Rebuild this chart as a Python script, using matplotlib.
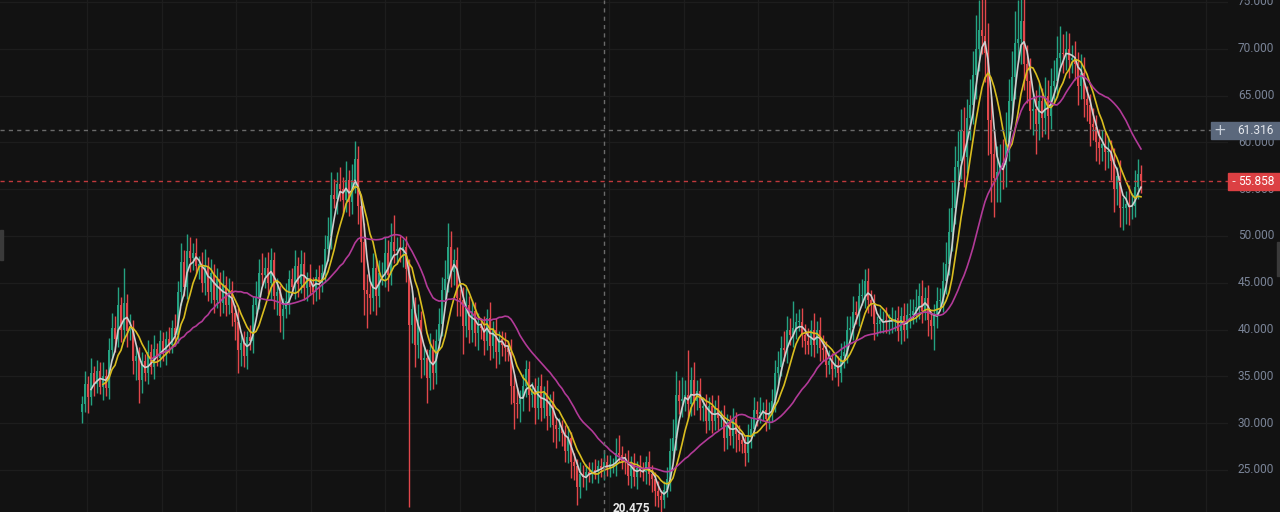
import matplotlib
matplotlib.use('Agg')
import matplotlib.pyplot as plt
from matplotlib.transforms import blended_transform_factory
from matplotlib.patches import Rectangle
import numpy as np
import pandas as pd

# closes, one candle every 3 px (left to right)
closes = [
    32.0, 34.2, 32.8, 35.4, 34.2, 35.6, 33.9, 35.0, 33.8, 37.8,
    40.2, 39.0, 42.6, 40.0, 42.8, 39.8, 40.2, 36.6, 37.2, 34.6,
    36.6, 35.4, 37.6, 36.0, 37.9, 37.0, 38.8, 37.4, 39.0, 38.4,
    40.2, 39.4, 44.0, 47.2, 44.6, 48.4, 47.6, 48.2, 46.8, 47.0,
    45.0, 46.8, 44.0, 46.0, 43.2, 45.4, 42.8, 44.8, 42.6, 44.2,
    41.8, 40.8, 37.8, 38.6, 37.2, 39.2, 38.8, 42.6, 43.4, 46.0,
    45.8, 46.6, 45.0, 47.4, 43.6, 44.0, 41.4, 42.2, 43.0, 45.4,
    44.6, 46.8, 44.9, 47.0, 44.4, 45.4, 44.6, 44.0, 45.6, 45.2,
    46.0, 48.6, 50.0, 54.4, 54.0, 55.6, 55.0, 53.8, 56.0, 53.6,
    56.0, 58.2, 53.2, 49.4, 44.2, 43.8, 43.4, 46.6, 43.6, 46.0,
    46.0, 48.2, 45.8, 49.4, 48.4, 48.6, 48.4, 48.8, 46.5, 40.5,
    42.2, 38.4, 41.0, 36.8, 37.0, 34.8, 37.8, 35.4, 38.8, 40.6,
    44.2, 45.4, 48.8, 46.2, 47.4, 43.4, 43.2, 40.4, 42.6, 40.0,
    42.0, 39.6, 40.4, 40.2, 38.8, 41.2, 38.2, 40.0, 37.6, 39.0,
    38.4, 38.0, 37.6, 34.0, 32.2, 32.0, 32.6, 34.0, 35.8, 33.0,
    33.6, 31.6, 34.0, 31.6, 33.2, 30.8, 32.4, 29.8, 29.4, 29.4,
    29.0, 27.0, 28.4, 25.8, 25.4, 23.2, 24.6, 24.2, 24.8, 24.6,
    25.0, 24.8, 25.4, 25.2, 25.8, 25.2, 25.6, 25.6, 26.8, 26.6,
    26.0, 25.8, 24.4, 25.6, 24.2, 25.2, 25.0, 24.8, 25.8, 24.6,
    24.0, 22.8, 22.2, 21.8, 22.9, 24.0, 27.0, 28.4, 33.0, 32.4,
    32.6, 33.0, 32.0, 34.6, 32.4, 33.4, 31.6, 31.8, 30.2, 31.8,
    30.2, 31.6, 30.6, 30.6, 28.4, 30.0, 28.6, 30.4, 28.8, 28.2,
    27.8, 26.8, 28.6, 29.4, 31.4, 31.0, 31.2, 31.4, 30.4, 31.0,
    32.4, 35.4, 36.0, 38.0, 37.8, 40.0, 39.4, 40.2, 40.8, 40.8,
    39.4, 38.8, 38.4, 40.0, 38.4, 40.0, 38.0, 37.8, 36.2, 36.6,
    35.8, 36.2, 35.4, 37.2, 37.6, 40.0, 40.2, 41.9, 41.6, 43.6,
    43.6, 45.2, 43.2, 42.6, 40.6, 40.6, 41.0, 41.0, 40.8, 40.8,
    41.2, 41.2, 39.8, 41.4, 40.0, 41.6, 41.6, 42.0, 42.4, 43.6,
    42.0, 43.4, 41.0, 40.4, 41.4, 43.0, 43.2, 45.2, 47.0, 50.4,
    53.0, 57.4, 58.0, 61.2, 58.4, 62.6, 64.0, 67.2, 70.0, 72.0,
    71.4, 69.6, 62.4, 58.8, 56.2, 56.8, 57.8, 57.6, 60.0, 64.4,
    67.0, 70.6, 71.0, 73.0, 68.4, 66.6, 63.4, 63.6, 62.0, 64.4,
    62.6, 65.0, 62.8, 66.0, 66.6, 69.0, 69.6, 69.4, 70.0, 68.8,
    69.0, 68.4, 66.0, 67.4, 64.6, 64.0, 62.0, 61.6, 60.0, 59.4,
    59.8, 59.0, 59.0, 58.0, 55.0, 56.4, 53.0, 53.0, 53.4, 53.2,
    53.2, 55.2, 56.6, 55.858,
]
first_open = 31.2

# wick lengths above / below the body
upper_wick = [
    0.9, 1.4, 0.8, 1.6, 0.7, 1.2, 0.9, 1.5, 0.8, 1.3,
    1.6, 1.2, 2.0, 0.9, 3.8, 1.0, 1.5, 0.8, 1.2, 0.9,
    1.0, 0.8, 1.3, 0.9, 1.5, 0.7, 1.2, 0.9, 0.8, 1.3,
    0.8, 1.5, 1.2, 2.0, 1.3, 1.8, 1.5, 1.0, 1.6, 0.9,
    1.3, 1.8, 0.9, 1.5, 1.0, 1.2, 0.8, 1.6, 0.9, 1.3,
    1.0, 0.8, 1.5, 0.9, 1.2, 0.7, 1.3, 1.0, 1.8, 1.5,
    2.2, 1.2, 1.7, 1.3, 0.9, 1.5, 0.8, 1.2, 2.0, 1.0,
    1.2, 1.7, 0.9, 1.5, 1.3, 0.8, 1.6, 1.0, 0.9, 1.3,
    1.0, 1.5, 2.0, 2.4, 1.7, 1.2, 1.8, 1.3, 2.0, 1.0,
    1.7, 1.9, 1.4, 1.2, 2.0, 1.7, 1.3, 1.6, 1.0, 1.4,
    1.2, 1.7, 1.4, 2.0, 2.8, 1.3, 1.4, 0.9, 1.2, 1.0,
    2.0, 1.3, 1.7, 1.0, 1.4, 0.9, 1.8, 1.2, 1.3, 1.7,
    1.4, 2.0, 2.6, 1.7, 1.2, 1.4, 0.9, 1.3, 1.8, 1.0,
    1.2, 0.9, 1.4, 0.8, 1.3, 1.0, 1.7, 0.9, 1.2, 0.8,
    0.9, 1.3, 0.8, 1.4, 1.2, 1.7, 0.9, 1.3, 1.0, 0.8,
    0.8, 1.2, 0.9, 1.3, 0.8, 1.4, 0.7, 1.0, 0.9, 1.2,
    0.9, 0.8, 1.3, 0.7, 1.0, 0.8, 1.2, 0.9, 0.8, 1.0,
    0.8, 1.2, 0.7, 0.9, 1.3, 0.8, 1.0, 0.7, 1.6, 1.9,
    1.0, 0.8, 1.3, 0.9, 1.2, 0.8, 1.4, 0.9, 0.7, 1.2,
    0.9, 0.8, 1.0, 0.7, 0.9, 1.3, 1.4, 2.0, 2.6, 1.6,
    2.3, 1.6, 4.8, 1.4, 1.9, 1.2, 1.4, 0.9, 1.3, 1.0,
    1.2, 0.9, 1.4, 0.8, 1.3, 1.0, 0.9, 1.2, 0.8, 1.0,
    0.9, 0.8, 1.3, 1.2, 1.4, 1.0, 1.6, 0.9, 1.2, 1.3,
    1.2, 1.4, 1.7, 1.3, 1.9, 1.4, 1.2, 2.8, 1.0, 1.4,
    1.5, 1.2, 1.4, 1.0, 1.8, 0.9, 1.3, 1.4, 1.0, 1.2,
    0.9, 1.3, 1.0, 1.4, 1.2, 1.5, 1.3, 1.7, 1.2, 1.4,
    1.8, 1.3, 1.4, 1.0, 1.2, 0.9, 1.3, 1.0, 1.4, 0.9,
    1.2, 0.9, 1.3, 1.0, 1.4, 1.2, 1.7, 1.3, 1.9, 1.4,
    1.7, 1.2, 1.4, 1.0, 1.3, 1.5, 1.2, 2.0, 2.4, 2.6,
    2.8, 2.2, 3.2, 2.4, 2.6, 2.0, 2.8, 2.6, 3.6, 3.2,
    4.2, 4.6, 3.2, 2.6, 2.4, 2.8, 2.0, 2.6, 3.2, 2.4,
    2.8, 3.4, 4.2, 3.8, 2.6, 2.0, 2.4, 1.7, 2.0, 1.9,
    1.4, 2.0, 1.7, 1.9, 2.2, 2.4, 2.8, 2.0, 1.9, 1.7,
    1.4, 1.8, 1.3, 2.0, 1.7, 1.4, 1.2, 1.7, 1.3, 1.4,
    1.5, 1.3, 1.7, 1.2, 1.4, 1.0, 1.7, 1.2, 1.4, 2.0,
    1.4, 1.9, 1.6, 1.0,
]
lower_wick = [
    1.2, 0.8, 1.7, 0.9, 1.3, 1.0, 0.8, 1.4, 0.9, 1.2,
    1.0, 1.4, 0.9, 1.3, 1.2, 1.7, 0.9, 1.3, 2.0, 2.4,
    1.4, 0.9, 1.2, 0.8, 1.3, 0.9, 1.0, 0.8, 1.2, 0.9,
    0.9, 1.2, 0.8, 1.4, 1.0, 1.3, 1.5, 1.2, 0.9, 1.4,
    1.0, 1.3, 0.9, 1.2, 1.4, 0.9, 1.3, 1.0, 1.2, 0.9,
    1.4, 1.9, 2.4, 1.7, 1.2, 1.4, 1.0, 1.3, 0.9, 1.2,
    1.0, 1.4, 1.2, 1.8, 1.4, 2.0, 1.7, 2.4, 1.0, 1.3,
    0.9, 1.3, 1.4, 1.0, 1.2, 1.4, 0.9, 1.3, 1.0, 1.9,
    1.2, 0.9, 1.3, 1.4, 1.0, 1.7, 1.3, 1.4, 1.2, 1.5,
    1.3, 1.4, 1.9, 2.2, 2.6, 3.6, 1.7, 1.4, 2.0, 1.2,
    1.2, 1.4, 1.7, 1.0, 1.3, 1.4, 1.2, 1.7, 1.4, 19.5,
    1.9, 2.4, 1.4, 2.0, 1.7, 2.6, 1.3, 1.7, 1.2, 1.0,
    1.3, 1.2, 1.4, 1.7, 1.4, 2.0, 1.7, 3.0, 1.2, 1.4,
    1.3, 1.4, 1.8, 1.2, 1.5, 1.0, 1.4, 1.2, 1.7, 1.3,
    1.2, 1.4, 1.0, 2.0, 2.8, 1.4, 1.9, 1.3, 1.2, 1.7,
    1.3, 1.7, 1.2, 1.4, 1.0, 1.5, 1.2, 1.8, 2.0, 1.3,
    1.4, 1.2, 1.3, 1.7, 1.5, 1.9, 1.2, 1.0, 1.3, 0.9,
    1.0, 0.8, 1.2, 0.9, 1.3, 0.8, 1.0, 0.9, 1.2, 0.8,
    0.9, 1.2, 1.0, 1.3, 0.9, 1.2, 0.8, 1.0, 1.3, 1.2,
    1.3, 1.6, 1.2, 1.325, 0.9, 0.8, 1.2, 1.0, 1.3, 1.4,
    1.7, 1.3, 1.4, 1.2, 1.5, 1.0, 1.3, 1.4, 1.2, 0.9,
    1.2, 0.9, 1.3, 1.0, 1.4, 1.2, 0.9, 1.3, 1.9, 1.2,
    1.0, 1.4, 0.9, 1.2, 0.8, 1.3, 1.0, 0.9, 1.2, 1.0,
    0.9, 1.2, 1.3, 1.0, 1.2, 1.4, 1.0, 1.3, 1.2, 0.9,
    1.3, 1.4, 1.0, 1.2, 1.3, 0.9, 1.4, 1.2, 1.3, 1.0,
    1.2, 0.9, 1.4, 1.0, 1.3, 1.2, 0.9, 1.3, 1.0, 1.2,
    1.0, 1.3, 1.4, 1.2, 1.7, 1.3, 1.0, 1.4, 1.2, 1.3,
    1.2, 1.4, 1.0, 1.3, 1.2, 0.9, 1.4, 1.0, 1.2, 1.3,
    1.3, 1.0, 1.7, 1.4, 2.6, 1.2, 0.9, 1.3, 1.4, 1.2,
    2.0, 1.7, 2.6, 1.9, 3.2, 1.7, 2.4, 2.0, 2.6, 2.4,
    2.0, 3.2, 3.8, 5.2, 4.2, 2.6, 3.2, 2.6, 2.4, 2.0,
    1.9, 2.4, 2.0, 2.6, 2.8, 2.4, 2.0, 2.6, 3.2, 1.7,
    2.0, 1.7, 2.4, 1.4, 1.9, 1.7, 1.4, 2.0, 1.7, 1.9,
    1.4, 1.7, 2.0, 1.4, 1.9, 1.7, 2.4, 1.4, 2.0, 1.7,
    1.4, 1.9, 1.7, 2.0, 2.4, 1.7, 2.0, 2.4, 1.7, 2.0,
    1.4, 1.2, 1.3, 1.3,
]

ma_periods = [4, 8, 24]
ma_colors = ['#cfcfcf', '#d9bd1f', '#b23a98']

y_ticks = [25, 30, 35, 40, 45, 50, 55, 60, 65, 70, 75]
cross_price = 61.316
last_price = 55.858
low_label = '20.475'

assert len(closes) == len(upper_wick) == len(lower_wick)

BG = '#121212'
GREEN = '#25a282'
RED = '#e2474b'
LABEL = '#7a8497'

n = len(closes)
idx = np.arange(n)
c = np.array(closes)
o = np.concatenate([[first_open], c[:-1]])
top = np.maximum(o, c)
bot = np.minimum(o, c)
hi = top + np.array(upper_wick)
lo = bot - np.array(lower_wick)
up = c >= o

fig = plt.figure(figsize=(12.8, 5.12), dpi=100, facecolor=BG)
ax = fig.add_axes([0, 0, 1228 / 1280, 1])
ax.set_facecolor(BG)
for s in ax.spines.values():
    s.set_visible(False)
ax.set_xticks([])
ax.set_yticks([])

# pixel -> index: candle 0 sits at x=82, 3 px per candle
ax.set_xlim(-82 / 3, (1228 - 82) / 3)
ax.set_ylim(20.51, 75.21)

# grid
for p in y_ticks + [20]:
    ax.axhline(p, color='#1d1d1d', lw=0.9, zorder=0)
for k in range(17):
    ax.axvline((87 + 74.6 * k - 82) / 3, color='#1d1d1d', lw=0.9, zorder=0)

# candles
cols = np.where(up, GREEN, RED)
ax.vlines(idx, lo, hi, colors=cols, lw=1.0, zorder=2)
h = np.maximum(top - bot, 0.08)
ax.bar(idx, h, bottom=bot, width=0.68, color=cols, linewidth=0, zorder=3)

# moving averages
s = pd.Series(c)
for per, col in zip(ma_periods, ma_colors):
    ax.plot(idx, s.rolling(per).mean(), color=col, lw=1.2, zorder=4)

# crosshair + last price line
ax.axhline(cross_price, color='#6a6a6a', lw=1.0, ls=(0, (3, 3)), zorder=5)
ax.axvline((604 - 82) / 3, color='#6a6a6a', lw=1.0, ls=(0, (3, 3)), zorder=5)
ax.axhline(last_price, color='#c0393c', lw=1.0, ls=(0, (3, 3)), zorder=5)

# right price scale
tr = blended_transform_factory(fig.transFigure, ax.transData)
for p in y_ticks:
    fig.text(1238 / 1280, p, f'{p:.3f}', transform=tr, family='Roboto',
             color=LABEL, fontsize=8.6, va='center', ha='left')

ph = 17 / 512 * (75.21 - 20.51)  # tag height in price units
fig.patches.append(Rectangle((1211 / 1280, cross_price - ph / 2), 69 / 1280, ph,
                             transform=tr, color='#5b687c', zorder=6))
fig.text(1219.5 / 1280, cross_price, '+', transform=tr, color='#c9d0da', fontsize=11,
         ha='center', va='center', zorder=7)
fig.text(1237 / 1280, cross_price, f'{cross_price:.3f}', transform=tr, family='Roboto',
         color='#e6e9ee', fontsize=8.6, ha='left', va='center', zorder=7)

fig.patches.append(Rectangle((1228 / 1280, last_price - ph / 2), 52 / 1280, ph,
                             transform=tr, color='#dc4043', zorder=6))
fig.text(1231 / 1280, last_price, '-', transform=tr, color='white', fontsize=8,
         ha='left', va='center', zorder=7)
fig.text(1238 / 1280, last_price, f'{last_price:.3f}', transform=tr, family='Roboto',
         color='white', fontsize=8.6, ha='left', va='center', zorder=7)

# lowest price label at the bottom
fig.text(631 / 1280, -3 / 512, low_label, color='#e8e8e8', fontsize=8.6,
         family='Roboto', ha='center', va='bottom', fontweight='bold')

# side tabs
fig.patches.append(Rectangle((0, 252 / 512), 3 / 1280, 30 / 512,
                             transform=fig.transFigure, color='#3a3a3a'))
fig.patches.append(Rectangle((1277 / 1280, 236 / 512), 3 / 1280, 34 / 512,
                             transform=fig.transFigure, color='#3a3a3a'))

fig.savefig('out.png', dpi=100, facecolor=BG)
